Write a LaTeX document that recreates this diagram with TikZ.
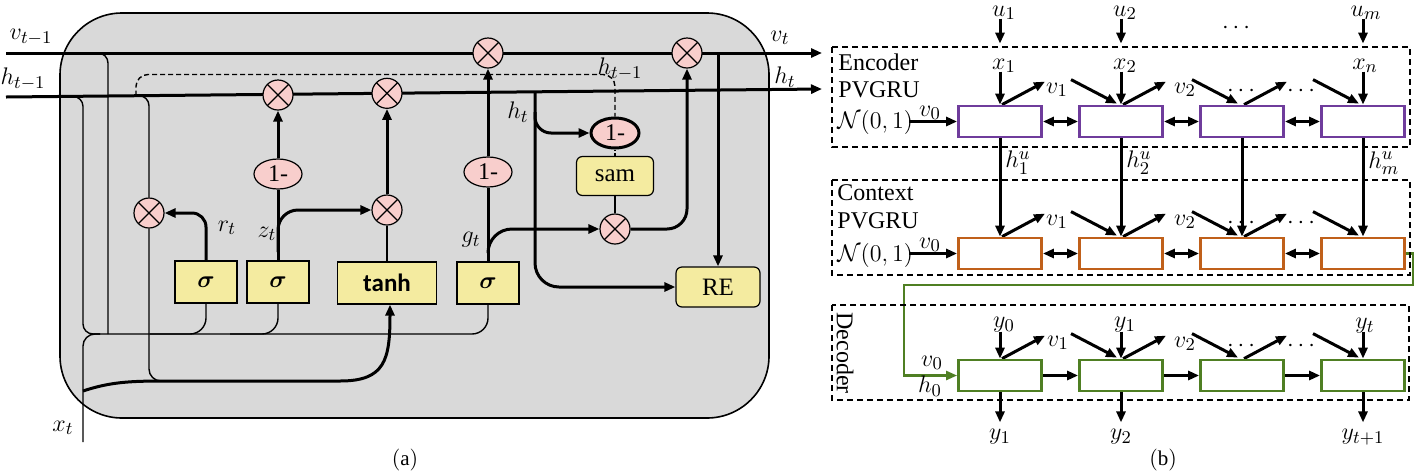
\documentclass[tikz,border=0pt]{standalone}
\usepackage{fontspec}
\usepackage{amsmath}
\usepackage{bm}
\setmainfont{Liberation Serif}
\newfontfamily\calfam{Carlito}
\usetikzlibrary{arrows.meta,shapes.geometric,calc}
\definecolor{graybg}{HTML}{D9D9D9}
\definecolor{pinkc}{HTML}{F8CECC}
\definecolor{yelc}{HTML}{F4EBA0}
\definecolor{purc}{HTML}{6F3C9C}
\definecolor{orac}{HTML}{C0601A}
\definecolor{grnc}{HTML}{4F7F23}
\pgfdeclarelayer{back}
\pgfdeclarelayer{lines}
\pgfsetlayers{back,lines,main}
\begin{document}
\begin{tikzpicture}[x=0.5pt,y=-0.5pt,
  thickl/.style={line width=1.5pt},
  thinl/.style={line width=0.7pt},
  >={Triangle[length=5.5pt,width=4.5pt]},
  lab/.style={inner sep=0pt, font=\fontsize{12.5}{14}\selectfont},
  txt/.style={inner sep=0pt, font=\fontsize{12}{14}\selectfont},
  otimes/.style={circle, draw, line width=0.6pt, fill=pinkc, minimum size=15pt, inner sep=0pt,
    path picture={\draw[line width=0.6pt] (path picture bounding box.north west) -- (path picture bounding box.south east)
      (path picture bounding box.north east) -- (path picture bounding box.south west);}},
  ybox/.style={draw, fill=yelc, line width=0.6pt, minimum height=21pt, inner sep=0pt, font=\fontsize{12.5}{14}\selectfont},
  onem/.style={ellipse, draw, fill=pinkc, line width=0.6pt, minimum width=24pt, minimum height=15pt, inner sep=0pt, font=\fontsize{12}{14}\selectfont},
  gru/.style={draw, fill=white, line width=1.4pt, minimum width=41.5pt, minimum height=15.5pt, inner sep=0pt},
  dbox/.style={draw, line width=0.6pt, dash pattern=on 3pt off 2pt}
]
\useasboundingbox (0,0) rectangle (1417,472);
\begin{pgfonlayer}{back}
\draw[line width=0.8pt, fill=graybg, rounded corners=31pt] (60,13) rectangle (769,418);
\end{pgfonlayer}

% ---------- panel (a) nodes ----------
\node[ybox, minimum width=31pt] (sr) at (206,282) {$\bm{\sigma}$};
\node[ybox, minimum width=31pt] (sz) at (278,282) {$\bm{\sigma}$};
\node[ybox, minimum width=49.5pt, font=\calfam\bfseries\fontsize{12.5}{14}\selectfont] (th) at (387,283) {tanh};
\node[ybox, minimum width=31pt] (sg) at (488,283) {$\bm{\sigma}$};
\node[ybox, rounded corners=3pt, minimum width=42pt, minimum height=20pt] (re) at (718,287) {RE};
\node[ybox, rounded corners=3pt, minimum width=38.5pt, minimum height=19.5pt] (sam) at (615,176) {sam};
\node[onem] (oz) at (278,174) {1-};
\node[onem] (og) at (488,172) {1-};
\node[onem, line width=1.5pt] (os) at (615,133) {1-};
\node[otimes] (mr) at (149,213) {};
\node[otimes] (mh1) at (278,95) {};
\node[otimes] (mh2) at (387,93.3) {};
\node[otimes] (mt) at (387,210) {};
\node[otimes] (mv1) at (488,53) {};
\node[otimes] (mv2) at (687,53) {};
\node[otimes] (ms) at (615,229) {};
\coordinate (vs) at (6,53);
\coordinate (ve) at (822,53);
\coordinate (hs) at (6,97);
\coordinate (he) at (822,89);

\node[lab] (lvt1) at (31,37) {$v_{t-1}$};
\node[lab] (lht1) at (23,79) {$h_{t-1}$};
\node[lab] (lvt) at (780,38) {$v_t$};
\node[lab] (lht) at (785,77) {$h_t$};
\node[lab] (lhd) at (620,69) {$h_{t-1}$};
\node[lab] (lhtt) at (518,112) {$h_t$};
\node[lab] (lrt) at (227,228) {$r_t$};
\node[lab] (lzt) at (267,234) {$z_t$};
\node[lab] (lgt) at (471,240) {$g_t$};
\node[lab] (lxt) at (63,428) {$x_t$};
\node[font=\fontsize{10.5}{12}\selectfont] (capa) at (405,460) {$(\mathrm{a})$};

\begin{pgfonlayer}{lines}
\draw[thickl,->] (vs) -- (ve);
\draw[thickl,->] (hs) -- (he);
% left feeds
\draw[thinl, rounded corners=5pt] (64,96.4) -| (83,334) -- (100,334);
\draw[thinl, rounded corners=5pt] (94,53) -| (108,334);
\draw[thinl, rounded corners=6pt] (83,442) |- (100,334);
\draw[thinl, rounded corners=8pt] (90,334) -| (sg.south);
\draw[thinl, rounded corners=8pt] (150,334) -| (sr.south);
\draw[thinl, rounded corners=8pt] (230,334) -| (sz.south);
\draw[thinl, rounded corners=5pt] (134,95.7) -| (mr.north);
\draw[thinl, rounded corners=6pt] (mr.south) |- (175,381);
\draw[thickl,->] (83,391) .. controls (110,382) and (130,381) .. (165,381) -- (340,381)
   .. controls (385,381) and (390,360) .. ($(th.south)+(3,0)$);
% dashed h_{t-1}
\draw[thinl, dash pattern=on 2.5pt off 1.5pt, rounded corners=6pt] (136,95.7) |- ($(os.north)+(0,-42)$) -- (os.north);
% gates
\draw[thickl,->, rounded corners=7pt] (sr.north) |- (mr.east);
\draw[thickl] (sz.north) -- (oz.south);
\draw[thickl,->] (oz.north) -- (mh1.south);
\draw[thickl,->, rounded corners=10pt] (278,252) |- (mt.west);
\draw[thinl] (th.north) -- (mt.south);
\draw[thickl,->] (mt.north) -- (mh2.south);
\draw[thickl] (sg.north) -- (og.south);
\draw[thickl,->] (og.north) -- (mv1.south);
\draw[thickl,->, rounded corners=12pt] (488,250) |- (ms.west);
\draw[thickl,->, rounded corners=10pt] (ms.east) -| (mv2.south);
\draw[thinl] (ms.north) -- (sam.south);
\draw[thinl, dash pattern=on 1.5pt off 1pt] (sam.north) -- (os.south);
\draw[thickl,->, rounded corners=12pt] (535,91.8) |- (re.west);
\draw[thickl,->, rounded corners=8pt] (535,112) |- (os.west);
\draw[thickl,->] (re.north |- vs) -- (re.north);
\end{pgfonlayer}

% ---------- panel (b) ----------
\draw[dbox] (832,47) rectangle (1410,147);
\draw[dbox] (832,180) rectangle (1410,275);
\draw[dbox] (832,305) rectangle (1409,400);

\node[txt, anchor=west] (te1) at (838,62) {Encoder};
\node[txt, anchor=west] (te2) at (838,90) {PVGRU};
\node[txt, anchor=west] (te3) at (837,122) {$\mathcal{N}(0,1)$};
\node[txt, anchor=west] (tc1) at (837,193) {Context};
\node[txt, anchor=west] (tc2) at (837,221) {PVGRU};
\node[txt, anchor=west] (tc3) at (837,255) {$\mathcal{N}(0,1)$};
\node[txt, rotate=-90] (td) at (845,353) {Decoder};

\foreach \i/\x in {1/1000,2/1121,3/1242,4/1363} {
  \node[gru, draw=purc] (e\i) at (\x,121.5) {};
  \node[gru, draw=orac] (c\i) at (\x,253.5) {};
  \node[gru, draw=grnc] (d\i) at (\x,375.5) {};
}

\node[lab] (u1) at (1004,13) {$u_1$};
\node[lab] (u2) at (1125,13) {$u_2$};
\node[lab] (um) at (1366,13) {$u_m$};
\node[lab] (udots) at (1238,28) {$\cdots$};
\node[lab] (x1) at (1004,66) {$x_1$};
\node[lab] (x2) at (1125,66) {$x_2$};
\node[lab] (xn) at (1365,66) {$x_n$};
\node[lab] (ev1) at (1057,90) {$v_1$};
\node[lab] (ev2) at (1185,90) {$v_2$};
\node[lab] (ed1) at (1243,91) {$\cdots$};
\node[lab] (ed2) at (1303,91) {$\cdots$};
\node[lab] (ev0) at (930,113) {$v_0$};
\node[lab, anchor=west] (h1u) at (1005,163) {$h_1^u$};
\node[lab, anchor=west] (h2u) at (1126,163) {$h_2^u$};
\node[lab, anchor=west] (hmu) at (1368,163) {$h_m^u$};
\node[lab] (cv1) at (1057,222) {$v_1$};
\node[lab] (cv2) at (1185,222) {$v_2$};
\node[lab] (cd1) at (1243,223) {$\cdots$};
\node[lab] (cd2) at (1303,223) {$\cdots$};
\node[lab] (cv0) at (930,245) {$v_0$};
\node[lab] (y0) at (1004,325) {$y_0$};
\node[lab] (y1i) at (1125,325) {$y_1$};
\node[lab] (yt) at (1365,326) {$y_t$};
\node[lab] (dv1) at (1058,343) {$v_1$};
\node[lab] (dv2) at (1185,344) {$v_2$};
\node[lab] (dd1) at (1243,346) {$\cdots$};
\node[lab] (dd2) at (1303,346) {$\cdots$};
\node[lab] (dv0) at (932,363) {$v_0$};
\node[lab] (dh0) at (930,386) {$h_0$};
\node[lab] (y1o) at (1000,437) {$y_1$};
\node[lab] (y2o) at (1121,437) {$y_2$};
\node[lab] (yto) at (1363,437) {$y_{t+1}$};
\node[font=\fontsize{10.5}{12}\selectfont] (capb) at (1163,460) {$(\mathrm{b})$};

\begin{pgfonlayer}{lines}
\foreach \i in {1,2,4} {
  \draw[thickl,->] ($(e\i.north)+(0,-86)$) -- ($(e\i.north)+(0,-61)$);
  \draw[thickl,->] ($(e\i.north)+(0,-33)$) -- (e\i.north);
  \draw[thickl,->] ($(d\i.north)+(0,-27)$) -- (d\i.north);
  \draw[thickl,->] (d\i.south) -- ++(0,30);
}
\foreach \i in {1,...,4} {
  \draw[thickl,->] (e\i.south) -- (c\i.north);
}
\foreach \i in {1,2,3} {
  \draw[thickl,->] ($(e\i.north)+(2,0)$) -- ++(43,-23);
  \draw[thickl,->] ($(c\i.north)+(2,0)$) -- ++(43,-23);
  \draw[thickl,->] ($(d\i.north)+(2,0)$) -- ++(43,-23);
}
\foreach \i in {2,3,4} {
  \draw[thickl,->] ($(e\i.north)+(-50,-25)$) -- ($(e\i.north)+(-4,-1)$);
  \draw[thickl,->] ($(c\i.north)+(-50,-25)$) -- ($(c\i.north)+(-4,-1)$);
  \draw[thickl,->] ($(d\i.north)+(-50,-25)$) -- ($(d\i.north)+(-4,-1)$);
}
\foreach \i/\j in {1/2,2/3,3/4} {
  \draw[thickl,<->] (e\i.east) -- (e\j.west);
  \draw[thickl,<->] (c\i.east) -- (c\j.west);
  \draw[thickl,->] (d\i.east) -- (d\j.west);
}
\draw[thickl,->] ($(e1.west)+(-48,0)$) -- (e1.west);
\draw[thickl,->] ($(c1.west)+(-48,0)$) -- (c1.west);
\draw[line width=1.2pt, grnc, ->] (c4.east) -- (1413,253.5) -- (1413,285) -- (904,285) -- (904,375.5) -- (d1.west);
\end{pgfonlayer}
\end{tikzpicture}
\end{document}
